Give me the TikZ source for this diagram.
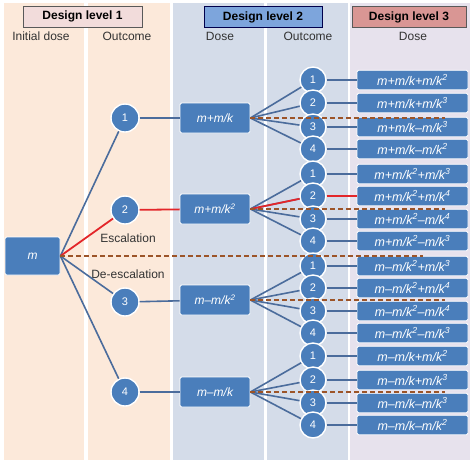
\documentclass[tikz,border=0pt]{standalone}
\usepackage{fontspec}
\setmainfont{Liberation Sans}
\definecolor{peach}{HTML}{FCE9DA}
\definecolor{steelbg}{HTML}{D4DCE9}
\definecolor{lilacbg}{HTML}{E7E2ED}
\definecolor{boxblue}{HTML}{4A7EBB}
\definecolor{linkblue}{HTML}{4B6C9C}
\definecolor{hotred}{HTML}{E3262A}
\definecolor{splitbrown}{HTML}{9C5428}
\definecolor{hdrpink}{HTML}{F2DCDB}
\definecolor{hdrblue}{HTML}{7DA5DC}
\definecolor{hdrred}{HTML}{D99694}
\newcommand{\pw}[1]{\textsuperscript{#1}}
\tikzset{
  colbg/.style={fill=#1, draw=none},
  hdr/.style={draw=#1, line width=1pt, minimum height=21pt, font=\fontsize{12}{14}\selectfont\bfseries},
  sub/.style={font=\fontsize{12}{14}\selectfont, text=black!80},
  dosebox/.style={fill=boxblue, draw=white, line width=0.8pt, rounded corners=1.5pt,
    text=white, font=\fontsize{12}{14}\selectfont\itshape, inner sep=1pt},
  lvthree/.style={dosebox, minimum width=111pt, minimum height=19.5pt, font=\fontsize{12.5}{13}\selectfont\itshape},
  lvtwo/.style={dosebox, minimum width=70pt, minimum height=30pt},
  outc/.style={circle, fill=boxblue, draw=white, line width=1.4pt, text=white,
    font=\fontsize{11}{12}\selectfont, inner sep=0pt},
  bigout/.style={outc, minimum size=28pt},
  smallout/.style={outc, minimum size=26pt},
  link/.style={draw=linkblue, line width=1.6pt},
  hot/.style={draw=hotred, line width=1.8pt},
  split/.style={draw=splitbrown, line width=1.8pt, dash pattern=on 5pt off 3pt},
}
\begin{document}
\begin{tikzpicture}[x=1pt,y=-1pt]
\useasboundingbox (0,0) rectangle (474,464);

% column backgrounds
\fill[colbg=peach]   (4,3)   rectangle (84,460);
\fill[colbg=peach]   (88,3)  rectangle (170,460);
\fill[colbg=steelbg] (173,3) rectangle (264,460);
\fill[colbg=steelbg] (267,3) rectangle (348,460);
\fill[colbg=lilacbg] (350,3) rectangle (470,460);

% headers
\node[hdr=black!65, fill=hdrpink, minimum width=119pt] (h1) at (82.5,16.5) {Design level 1};
\node[hdr=black!70!blue, fill=hdrblue, minimum width=118pt] (h2) at (263,17) {Design level 2};
\node[hdr=black!65, fill=hdrred, minimum width=114pt] (h3) at (409,17) {Design level 3};

\node[sub] (s1) at (41,36)  {Initial dose};
\node[sub] (s2) at (127,36) {Outcome};
\node[sub] (s3) at (220,36) {Dose};
\node[sub] (s4) at (308,36) {Outcome};
\node[sub] (s5) at (413,36) {Dose};

% initial dose
\node[dosebox, minimum width=55pt, minimum height=38pt] (m) at (32.5,256) {m};

% first outcomes
\node[bigout] (c1) at (125,118) {1};
\node[bigout] (c2) at (125,210) {2};
\node[bigout] (c3) at (125,302) {3};
\node[bigout] (c4) at (125,392) {4};

\node[sub] (esc) at (128,238) {Escalation};
\node[sub] (desc) at (128,274) {De-escalation};

% second-level doses
\node[lvtwo] (b1) at (215,118) {m+m/k};
\node[lvtwo] (b2) at (215,209) {m+m/k\pw{2}};
\node[lvtwo] (b3) at (215,300) {m–m/k\pw{2}};
\node[lvtwo] (b4) at (215,392) {m–m/k};

% second outcomes
\foreach \g/\ya/\yb/\yc/\yd in {1/80/103/127/149, 2/174/196/219/241, 3/266/288/311/333, 4/356/380/403/425}{
  \node[smallout] (d\g1) at (313,\ya) {1};
  \node[smallout] (d\g2) at (313,\yb) {2};
  \node[smallout] (d\g3) at (313,\yc) {3};
  \node[smallout] (d\g4) at (313,\yd) {4};
}

% third-level doses
\node[lvthree] (e11) at (412.5,80)  {m+m/k+m/k\pw{2}};
\node[lvthree] (e12) at (412.5,103) {m+m/k+m/k\pw{3}};
\node[lvthree] (e13) at (412.5,127) {m+m/k–m/k\pw{3}};
\node[lvthree] (e14) at (412.5,149) {m+m/k–m/k\pw{2}};
\node[lvthree] (e21) at (412.5,174) {m+m/k\pw{2}+m/k\pw{3}};
\node[lvthree] (e22) at (412.5,196) {m+m/k\pw{2}+m/k\pw{4}};
\node[lvthree] (e23) at (412.5,219) {m+m/k\pw{2}–m/k\pw{4}};
\node[lvthree] (e24) at (412.5,241) {m+m/k\pw{2}–m/k\pw{3}};
\node[lvthree] (e31) at (412.5,266) {m–m/k\pw{2}+m/k\pw{3}};
\node[lvthree] (e32) at (412.5,288) {m–m/k\pw{2}+m/k\pw{4}};
\node[lvthree] (e33) at (412.5,311) {m–m/k\pw{2}–m/k\pw{4}};
\node[lvthree] (e34) at (412.5,333) {m–m/k\pw{2}–m/k\pw{3}};
\node[lvthree] (e41) at (412.5,356) {m–m/k+m/k\pw{2}};
\node[lvthree] (e42) at (412.5,380) {m–m/k+m/k\pw{3}};
\node[lvthree] (e43) at (412.5,403) {m–m/k–m/k\pw{3}};
\node[lvthree] (e44) at (412.5,425) {m–m/k–m/k\pw{2}};

% connectors
\draw[link] (m.east) -- (c1);
\draw[hot]  (m.east) -- (c2);
\draw[link] (m.east) -- (c3);
\draw[link] (m.east) -- (c4);
\draw[link] (c1) -- (b1);
\draw[hot]  (c2) -- (b2);
\draw[link] (c3) -- (b3);
\draw[link] (c4) -- (b4);
\foreach \g in {1,2,3,4}{
  \foreach \j in {1,2,3,4}{
    \draw[link] (b\g.east) -- (d\g\j);
    \draw[link] (d\g\j) -- (e\g\j);
  }
}
\draw[hot] (b2.east) -- (d22);
\draw[hot] (d22) -- (e22);

% escalation / de-escalation splits
\coordinate (mend) at (423,256);
\draw[split] (m.east) -- (mend);
\foreach \g in {1,2,3,4}{
  \coordinate (bend\g) at (445,0 |- b\g.east);
  \draw[split] (b\g.east) -- (bend\g);
}
\end{tikzpicture}
\end{document}
